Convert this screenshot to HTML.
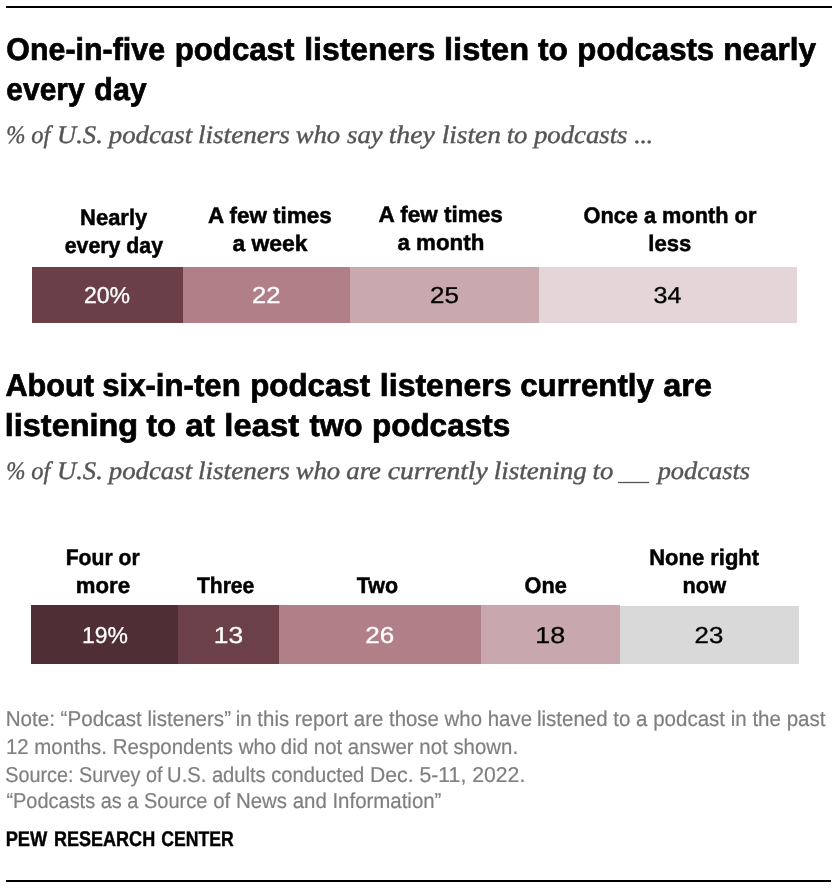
<!DOCTYPE html>
<html><head><meta charset="utf-8"><title>Podcast listeners</title>
<style>
html,body{margin:0;padding:0;background:#fff;}
body{width:840px;height:888px;position:relative;overflow:hidden;font-family:"Liberation Sans",sans-serif;}
.r{position:absolute;}
.t{text-rendering:geometricPrecision;position:absolute;white-space:nowrap;transform-origin:0 0;line-height:40px;height:40px;}
.b{font-weight:bold;}
.i{font-family:"Liberation Serif",serif;font-style:italic;}
#w{position:absolute;left:0;top:0;width:840px;height:888px;will-change:transform;}
</style></head><body><div id="w">
<div class="r" style="left:6px;top:6px;width:826px;height:2px;background:#000"></div>
<div class="r" style="left:6px;top:880px;width:825px;height:2px;background:#000"></div>
<div class="r" style="left:32px;top:267px;width:151px;height:56px;background:#6b3f47"></div>
<div class="r" style="left:183px;top:267px;width:167px;height:56px;background:#b07f87"></div>
<div class="r" style="left:350px;top:267px;width:189px;height:56px;background:#c9a9ae"></div>
<div class="r" style="left:539px;top:267px;width:258px;height:56px;background:#e4d5d8"></div>
<div class="r" style="left:31px;top:605px;width:147px;height:59px;background:#4f2f35"></div>
<div class="r" style="left:178px;top:605px;width:101px;height:59px;background:#6c4048"></div>
<div class="r" style="left:279px;top:605px;width:202px;height:59px;background:#b07f87"></div>
<div class="r" style="left:481px;top:605px;width:139px;height:59px;background:#c9a8ad"></div>
<div class="r" style="left:620px;top:606px;width:179px;height:58px;background:#d9d9d9"></div>
<div class="r" style="left:618px;top:482px;width:31px;height:1px;background:#555"></div>
<div class="r" style="left:618px;top:481px;width:31px;height:1px;background:rgba(85,85,85,.15)"></div>
<div class="r" style="left:618px;top:483px;width:31px;height:1px;background:rgba(85,85,85,.15)"></div>
<div class="t b" style="left:6px;top:29px;font-size:31.5px;color:#000;-webkit-text-stroke:0.7px #000;transform:translate(0.37px,0.00px) scale(0.9650,1)">One-in-five</div>
<div class="t b" style="left:174px;top:29px;font-size:31.5px;color:#000;-webkit-text-stroke:0.7px #000;transform:translate(0.68px,0.00px) scale(0.9911,1)">podcast</div>
<div class="t b" style="left:304px;top:29px;font-size:31.5px;color:#000;-webkit-text-stroke:0.7px #000;transform:translate(0.18px,0.00px) scale(1.0124,1)">listeners</div>
<div class="t b" style="left:444px;top:29px;font-size:31.5px;color:#000;-webkit-text-stroke:0.7px #000;transform:translate(0.03px,0.00px) scale(1.0339,1)">listen</div>
<div class="t b" style="left:538px;top:29px;font-size:31.5px;color:#000;-webkit-text-stroke:0.7px #000;transform:translate(0.04px,0.00px) scale(1.0065,1)">to</div>
<div class="t b" style="left:577px;top:29px;font-size:31.5px;color:#000;-webkit-text-stroke:0.7px #000;transform:translate(0.34px,0.00px) scale(0.9895,1)">podcasts</div>
<div class="t b" style="left:723px;top:29px;font-size:31.5px;color:#000;-webkit-text-stroke:0.7px #000;transform:translate(0.28px,0.00px) scale(0.9984,1)">nearly</div>
<div class="t b" style="left:6px;top:69px;font-size:31.5px;color:#000;-webkit-text-stroke:0.7px #000;transform:translate(0.36px,0.00px) scale(0.9508,1)">every</div>
<div class="t b" style="left:94px;top:69px;font-size:31.5px;color:#000;-webkit-text-stroke:0.7px #000;transform:translate(0.34px,0.00px) scale(0.9645,1)">day</div>
<div class="t i" style="left:6px;top:116px;font-size:25.2px;color:#555;-webkit-text-stroke:0.4px #555;transform:translate(0.15px,0.00px) scale(0.9142,1)">%</div>
<div class="t i" style="left:31px;top:116px;font-size:25.2px;color:#555;-webkit-text-stroke:0.4px #555;transform:translate(0.30px,0.00px) scale(0.9707,1)">of</div>
<div class="t i" style="left:56px;top:116px;font-size:25.2px;color:#555;-webkit-text-stroke:0.4px #555;transform:translate(0.95px,0.00px) scale(1.0576,1)">U.S.</div>
<div class="t i" style="left:108px;top:116px;font-size:25.2px;color:#555;-webkit-text-stroke:0.4px #555;transform:translate(0.78px,0.00px) scale(1.0634,1)">podcast</div>
<div class="t i" style="left:197px;top:116px;font-size:25.2px;color:#555;-webkit-text-stroke:0.4px #555;transform:translate(0.99px,0.00px) scale(1.0766,1)">listeners</div>
<div class="t i" style="left:295px;top:116px;font-size:25.2px;color:#555;-webkit-text-stroke:0.4px #555;transform:translate(0.69px,0.00px) scale(1.0600,1)">who</div>
<div class="t i" style="left:346px;top:116px;font-size:25.2px;color:#555;-webkit-text-stroke:0.4px #555;transform:translate(0.99px,0.00px) scale(1.0600,1)">say</div>
<div class="t i" style="left:388px;top:116px;font-size:25.2px;color:#555;-webkit-text-stroke:0.4px #555;transform:translate(0.67px,0.00px) scale(1.1000,1)">they</div>
<div class="t i" style="left:441px;top:116px;font-size:25.2px;color:#555;-webkit-text-stroke:0.4px #555;transform:translate(0.68px,0.00px) scale(1.0851,1)">listen</div>
<div class="t i" style="left:506px;top:116px;font-size:25.2px;color:#555;-webkit-text-stroke:0.4px #555;transform:translate(0.67px,0.00px) scale(1.0600,1)">to</div>
<div class="t i" style="left:533px;top:116px;font-size:25.2px;color:#555;-webkit-text-stroke:0.4px #555;transform:translate(0.93px,0.00px) scale(1.0613,1)">podcasts</div>
<div class="t i" style="left:634px;top:116px;font-size:25.2px;color:#555;-webkit-text-stroke:0.4px #555;transform:translate(0.14px,0.00px) scale(1.0059,1)">.</div>
<div class="t i" style="left:640px;top:116px;font-size:25.2px;color:#555;-webkit-text-stroke:0.4px #555;transform:translate(0.40px,0.00px) scale(1.0203,1)">.</div>
<div class="t i" style="left:646px;top:116px;font-size:25.2px;color:#555;-webkit-text-stroke:0.4px #555;transform:translate(0.69px,0.00px) scale(0.9728,1)">.</div>
<div class="t b" style="left:80px;top:198px;font-size:22.5px;color:#000;-webkit-text-stroke:0.5px #000;transform:translate(0.11px,0.00px) scale(0.9750,1)">Nearly</div>
<div class="t b" style="left:64px;top:226px;font-size:22.5px;color:#000;-webkit-text-stroke:0.5px #000;transform:translate(0.71px,0.00px) scale(0.9473,1)">every day</div>
<div class="t b" style="left:207px;top:196px;font-size:22.5px;color:#000;-webkit-text-stroke:0.5px #000;transform:translate(0.96px,0.00px) scale(0.9958,1)">A few times</div>
<div class="t b" style="left:232px;top:224px;font-size:22.5px;color:#000;-webkit-text-stroke:0.5px #000;transform:translate(0.40px,0.00px) scale(1.0165,1)">a week</div>
<div class="t b" style="left:378px;top:195px;font-size:22.5px;color:#000;-webkit-text-stroke:0.5px #000;transform:translate(0.53px,0.00px) scale(1.0006,1)">A few times</div>
<div class="t b" style="left:397px;top:223px;font-size:22.5px;color:#000;-webkit-text-stroke:0.5px #000;transform:translate(0.45px,0.00px) scale(0.9931,1)">a month</div>
<div class="t b" style="left:583px;top:196px;font-size:22.5px;color:#000;-webkit-text-stroke:0.5px #000;transform:translate(0.51px,0.00px) scale(0.9670,1)">Once a month or</div>
<div class="t b" style="left:648px;top:224px;font-size:22.5px;color:#000;-webkit-text-stroke:0.5px #000;transform:translate(0.35px,0.00px) scale(0.9808,1)">less</div>
<div class="t" style="left:83px;top:275px;font-size:23.0px;color:#fff;-webkit-text-stroke:0.3px #fff;transform:translate(0.97px,0.00px) scale(1.0016,1)">20%</div>
<div class="t" style="left:252px;top:275px;font-size:23.0px;color:#fff;-webkit-text-stroke:0.3px #fff;transform:translate(0.11px,0.00px) scale(1.1135,1)">22</div>
<div class="t" style="left:430px;top:275px;font-size:23.0px;color:#000;-webkit-text-stroke:0.3px #000;transform:translate(0.05px,0.00px) scale(1.1304,1)">25</div>
<div class="t" style="left:653px;top:275px;font-size:23.0px;color:#000;-webkit-text-stroke:0.3px #000;transform:translate(0.58px,0.00px) scale(1.0908,1)">34</div>
<div class="t b" style="left:5px;top:365px;font-size:31.5px;color:#000;-webkit-text-stroke:0.7px #000;transform:translate(0.43px,0.00px) scale(0.9727,1)">About</div>
<div class="t b" style="left:102px;top:365px;font-size:31.5px;color:#000;-webkit-text-stroke:0.7px #000;transform:translate(0.16px,0.00px) scale(0.9896,1)">six-in-ten</div>
<div class="t b" style="left:250px;top:365px;font-size:31.5px;color:#000;-webkit-text-stroke:0.7px #000;transform:translate(0.14px,0.00px) scale(0.9940,1)">podcast</div>
<div class="t b" style="left:379px;top:365px;font-size:31.5px;color:#000;-webkit-text-stroke:0.7px #000;transform:translate(0.83px,0.00px) scale(1.0170,1)">listeners</div>
<div class="t b" style="left:520px;top:365px;font-size:31.5px;color:#000;-webkit-text-stroke:0.7px #000;transform:translate(0.21px,0.00px) scale(0.9916,1)">currently</div>
<div class="t b" style="left:663px;top:365px;font-size:31.5px;color:#000;-webkit-text-stroke:0.7px #000;transform:translate(0.30px,0.00px) scale(1.0297,1)">are</div>
<div class="t b" style="left:4px;top:405px;font-size:31.5px;color:#000;-webkit-text-stroke:0.7px #000;transform:translate(0.86px,0.00px) scale(1.0279,1)">listening</div>
<div class="t b" style="left:146px;top:405px;font-size:31.5px;color:#000;-webkit-text-stroke:0.7px #000;transform:translate(0.56px,0.00px) scale(0.9935,1)">to</div>
<div class="t b" style="left:185px;top:405px;font-size:31.5px;color:#000;-webkit-text-stroke:0.7px #000;transform:translate(0.37px,0.00px) scale(1.0510,1)">at</div>
<div class="t b" style="left:224px;top:405px;font-size:31.5px;color:#000;-webkit-text-stroke:0.7px #000;transform:translate(0.34px,0.00px) scale(1.0411,1)">least</div>
<div class="t b" style="left:309px;top:405px;font-size:31.5px;color:#000;-webkit-text-stroke:0.7px #000;transform:translate(0.61px,0.00px) scale(0.9776,1)">two</div>
<div class="t b" style="left:371px;top:405px;font-size:31.5px;color:#000;-webkit-text-stroke:0.7px #000;transform:translate(0.90px,0.00px) scale(1.0000,1)">podcasts</div>
<div class="t i" style="left:6px;top:452px;font-size:25.2px;color:#555;-webkit-text-stroke:0.4px #555;transform:translate(0.15px,0.00px) scale(0.9142,1)">%</div>
<div class="t i" style="left:31px;top:452px;font-size:25.2px;color:#555;-webkit-text-stroke:0.4px #555;transform:translate(0.30px,0.00px) scale(0.9707,1)">of</div>
<div class="t i" style="left:56px;top:452px;font-size:25.2px;color:#555;-webkit-text-stroke:0.4px #555;transform:translate(0.95px,0.00px) scale(1.0576,1)">U.S.</div>
<div class="t i" style="left:108px;top:452px;font-size:25.2px;color:#555;-webkit-text-stroke:0.4px #555;transform:translate(0.78px,0.00px) scale(1.0634,1)">podcast</div>
<div class="t i" style="left:197px;top:452px;font-size:25.2px;color:#555;-webkit-text-stroke:0.4px #555;transform:translate(0.99px,0.00px) scale(1.0766,1)">listeners</div>
<div class="t i" style="left:295px;top:452px;font-size:25.2px;color:#555;-webkit-text-stroke:0.4px #555;transform:translate(0.69px,0.00px) scale(1.0600,1)">who</div>
<div class="t i" style="left:346px;top:452px;font-size:25.2px;color:#555;-webkit-text-stroke:0.4px #555;transform:translate(0.34px,0.00px) scale(1.0600,1)">are</div>
<div class="t i" style="left:387px;top:452px;font-size:25.2px;color:#555;-webkit-text-stroke:0.4px #555;transform:translate(0.65px,0.00px) scale(1.0954,1)">currently</div>
<div class="t i" style="left:493px;top:452px;font-size:25.2px;color:#555;-webkit-text-stroke:0.4px #555;transform:translate(0.78px,0.00px) scale(1.0715,1)">listening</div>
<div class="t i" style="left:592px;top:452px;font-size:25.2px;color:#555;-webkit-text-stroke:0.4px #555;transform:translate(0.60px,0.00px) scale(1.0600,1)">to</div>
<div class="t i" style="left:657px;top:452px;font-size:25.2px;color:#555;-webkit-text-stroke:0.4px #555;transform:translate(0.66px,0.00px) scale(1.0476,1)">podcasts</div>
<div class="t b" style="left:65px;top:538px;font-size:22.5px;color:#000;-webkit-text-stroke:0.5px #000;transform:translate(0.67px,0.00px) scale(0.9389,1)">Four or</div>
<div class="t b" style="left:75px;top:566px;font-size:22.5px;color:#000;-webkit-text-stroke:0.5px #000;transform:translate(0.83px,0.00px) scale(0.9841,1)">more</div>
<div class="t b" style="left:196px;top:566px;font-size:22.5px;color:#000;-webkit-text-stroke:0.5px #000;transform:translate(0.94px,0.00px) scale(0.9353,1)">Three</div>
<div class="t b" style="left:356px;top:566px;font-size:22.5px;color:#000;-webkit-text-stroke:0.5px #000;transform:translate(0.72px,0.00px) scale(0.9534,1)">Two</div>
<div class="t b" style="left:524px;top:566px;font-size:22.5px;color:#000;-webkit-text-stroke:0.5px #000;transform:translate(0.57px,0.00px) scale(0.9631,1)">One</div>
<div class="t b" style="left:649px;top:538px;font-size:22.5px;color:#000;-webkit-text-stroke:0.5px #000;transform:translate(0.19px,0.00px) scale(0.9769,1)">None right</div>
<div class="t b" style="left:682px;top:566px;font-size:22.5px;color:#000;-webkit-text-stroke:0.5px #000;transform:translate(0.56px,0.00px) scale(0.9672,1)">now</div>
<div class="t" style="left:82px;top:615px;font-size:23.0px;color:#fff;-webkit-text-stroke:0.3px #fff;transform:translate(0.08px,0.00px) scale(0.9977,1)">19%</div>
<div class="t" style="left:213px;top:615px;font-size:23.0px;color:#fff;-webkit-text-stroke:0.3px #fff;transform:translate(0.83px,0.00px) scale(1.1461,1)">13</div>
<div class="t" style="left:365px;top:615px;font-size:23.0px;color:#fff;-webkit-text-stroke:0.3px #fff;transform:translate(0.37px,0.00px) scale(1.1338,1)">26</div>
<div class="t" style="left:535px;top:615px;font-size:23.0px;color:#000;-webkit-text-stroke:0.3px #000;transform:translate(0.37px,0.00px) scale(1.1698,1)">18</div>
<div class="t" style="left:694px;top:615px;font-size:23.0px;color:#000;-webkit-text-stroke:0.3px #000;transform:translate(0.59px,0.00px) scale(1.1220,1)">23</div>
<div class="t" style="left:5px;top:699px;font-size:21.5px;color:#7f7f7f;-webkit-text-stroke:0.2px #7f7f7f;transform:translate(0.73px,0.00px) scale(0.9570,1)">Note: “Podcast listeners”</div>
<div class="t" style="left:235px;top:699px;font-size:21.5px;color:#7f7f7f;-webkit-text-stroke:0.2px #7f7f7f;transform:translate(0.81px,0.00px) scale(0.9495,1)">in this report are those who have</div>
<div class="t" style="left:536px;top:699px;font-size:21.5px;color:#7f7f7f;-webkit-text-stroke:0.2px #7f7f7f;transform:translate(0.91px,0.00px) scale(0.9540,1)">listened to a podcast in the past</div>
<div class="t" style="left:5px;top:727px;font-size:21.5px;color:#7f7f7f;-webkit-text-stroke:0.2px #7f7f7f;transform:translate(0.95px,0.00px) scale(0.9500,1)">12 months. Respondents who</div>
<div class="t" style="left:280px;top:727px;font-size:21.5px;color:#7f7f7f;-webkit-text-stroke:0.2px #7f7f7f;transform:translate(0.87px,0.00px) scale(0.9496,1)">did not answer not shown.</div>
<div class="t" style="left:5px;top:755px;font-size:21.5px;color:#7f7f7f;-webkit-text-stroke:0.2px #7f7f7f;transform:translate(0.31px,0.00px) scale(0.9197,1)">Source: Survey of</div>
<div class="t" style="left:167px;top:755px;font-size:21.5px;color:#7f7f7f;-webkit-text-stroke:0.2px #7f7f7f;transform:translate(0.09px,0.00px) scale(0.9376,1)">U.S. adults conducted</div>
<div class="t" style="left:369px;top:755px;font-size:21.5px;color:#7f7f7f;-webkit-text-stroke:0.2px #7f7f7f;transform:translate(0.96px,0.00px) scale(0.9872,1)">Dec. 5-11, 2022.</div>
<div class="t" style="left:6px;top:781px;font-size:21.5px;color:#7f7f7f;-webkit-text-stroke:0.2px #7f7f7f;transform:translate(0.38px,0.00px) scale(0.9286,1)">“Podcasts as a Source</div>
<div class="t" style="left:213px;top:781px;font-size:21.5px;color:#7f7f7f;-webkit-text-stroke:0.2px #7f7f7f;transform:translate(0.22px,0.00px) scale(0.9500,1)">of News and Information”</div>
<div class="t b" style="left:5px;top:820px;font-size:21.2px;color:#000;-webkit-text-stroke:0.4px #000;transform:translate(0.65px,0.00px) scale(0.8630,1)">PEW</div>
<div class="t b" style="left:53px;top:820px;font-size:21.2px;color:#000;-webkit-text-stroke:0.4px #000;transform:translate(0.94px,0.00px) scale(0.8513,1)">RESEARCH</div>
<div class="t b" style="left:161px;top:820px;font-size:21.2px;color:#000;-webkit-text-stroke:0.4px #000;transform:translate(0.24px,0.00px) scale(0.8318,1)">CENTER</div>
</div></body></html>
